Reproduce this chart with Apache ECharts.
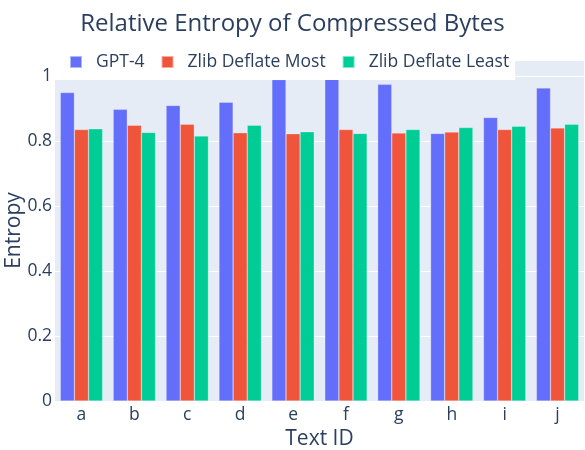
<!DOCTYPE html>
<html>
<head>
<meta charset="utf-8">
<script src="https://cdn.jsdelivr.net/npm/echarts@6/dist/echarts.min.js"></script>
<style>
  html, body { margin: 0; padding: 0; background: #fff; }
  #chart { width: 585px; height: 450px; }
</style>
</head>
<body>
<div id="chart"></div>
<script>
// 数据
const textIds = ['a', 'b', 'c', 'd', 'e', 'f', 'g', 'h', 'i', 'j']
const gpt4 = [0.950, 0.898, 0.910, 0.920, 0.990, 0.998, 0.975, 0.824, 0.873, 0.964]
const zlibMost = [0.836, 0.849, 0.852, 0.826, 0.823, 0.836, 0.825, 0.828, 0.836, 0.841]
const zlibLeast = [0.838, 0.827, 0.816, 0.849, 0.829, 0.824, 0.836, 0.842, 0.846, 0.852]
const yTicks = [0, 0.2, 0.4, 0.6, 0.8, 1]

const fontFamily = '"Open Sans", verdana, arial, sans-serif'
const textColor = '#2a3f5f'

let myChart = echarts.init(document.querySelector('#chart'))

function barSeries(name, data, color) {
  return {
    name: name,
    type: 'bar',
    data: data,
    barGap: '0%',
    barCategoryGap: '20%',
    itemStyle: {
      color: color,
      borderColor: 'rgba(255,255,255,0.5)',
      borderWidth: 0.5
    }
  }
}

let option = {
  textStyle: { fontFamily: fontFamily, color: textColor },
  title: {
    text: 'Relative Entropy of Compressed Bytes',
    left: 'center',
    top: 7,
    textStyle: {
      fontFamily: fontFamily,
      fontSize: 24,
      fontWeight: 'normal',
      color: textColor
    }
  },
  legend: {
    left: 55,
    top: 44,
    padding: [9, 6, 9, 14],
    backgroundColor: '#fff',
    icon: 'rect',
    itemWidth: 12,
    itemHeight: 12,
    itemGap: 16,
    textStyle: {
      fontFamily: fontFamily,
      fontSize: 17.5,
      color: textColor,
      padding: [0, 0, 0, 9]
    }
  },
  grid: {
    left: 55,
    right: 1,
    top: 60,
    bottom: 49,
    outerBoundsMode: 'none',
    show: true,
    backgroundColor: '#E5ECF6',
    borderWidth: 0
  },
  xAxis: {
    type: 'category',
    data: textIds,
    name: 'Text ID',
    nameLocation: 'middle',
    nameGap: 28,
    nameTextStyle: { fontSize: 21, color: textColor },
    axisLine: { show: false },
    axisTick: { show: false },
    axisLabel: { fontSize: 17.5, color: textColor, margin: 5 },
    splitLine: { show: false }
  },
  yAxis: {
    type: 'value',
    min: 0,
    max: 1.05,
    interval: 0.2,
    name: 'Entropy',
    nameLocation: 'middle',
    nameGap: 30,
    nameMoveOverlap: false,
    nameTextStyle: { fontSize: 21, color: textColor },
    axisLine: { show: false },
    axisTick: { show: false },
    axisLabel: {
      fontSize: 17.5,
      color: textColor,
      margin: 3,
      showMaxLabel: false,
      formatter: v => yTicks.some(t => Math.abs(t - v) < 1e-9) ? String(+v.toFixed(1)) : ''
    },
    splitLine: { lineStyle: { color: '#fff', width: 1 } }
  },
  series: [
    barSeries('GPT-4', gpt4, '#636EFA'),
    barSeries('Zlib Deflate Most', zlibMost, '#EF553B'),
    barSeries('Zlib Deflate Least', zlibLeast, '#00CC96')
  ]
}
myChart.setOption(option)
</script>
</body>
</html>
